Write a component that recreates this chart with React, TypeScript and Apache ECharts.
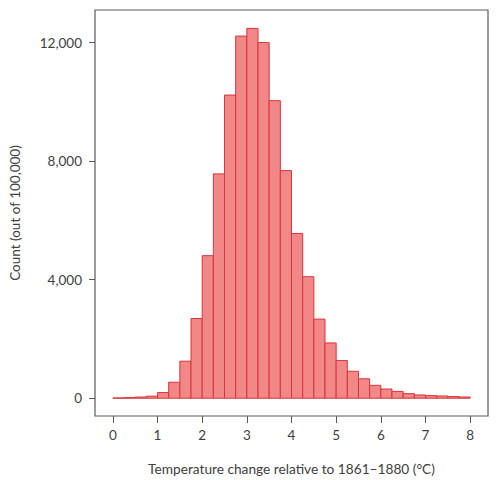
import React, { useEffect, useRef } from "react";
import * as echarts from "echarts";

const binStarts = [
  0, 0.25, 0.5, 0.75, 1, 1.25, 1.5, 1.75, 2, 2.25, 2.5, 2.75, 3, 3.25, 3.5, 3.75,
  4, 4.25, 4.5, 4.75, 5, 5.25, 5.5, 5.75, 6, 6.25, 6.5, 6.75, 7, 7.25, 7.5, 7.75,
];
const counts = [
  10, 20, 40, 70, 190, 540, 1250, 2690, 4810, 7570, 10230, 12220, 12480, 12000, 10040, 7680,
  5560, 4100, 2670, 1865, 1270, 910, 655, 435, 310, 230, 155, 110, 88, 75, 55, 42,
];
const binWidth = 0.25;
const xTicks = [0, 1, 2, 3, 4, 5, 6, 7, 8];
const yTicks = [0, 4000, 8000, 12000];

export default function App() {
  const ref = useRef<HTMLDivElement>(null);
  useEffect(() => {
    document.body.style.margin = "0";
    const chart = echarts.init(ref.current!, null, { renderer: "svg" });
    const textColor = "#404040";
    const font = "Lato, 'Open Sans', sans-serif";
    chart.setOption({
      animation: false,
      backgroundColor: "#ffffff",
      grid: {
        left: 95,
        top: 10,
        right: 12,
        bottom: 60,
        show: true,
        borderColor: "#5a5a5a",
        borderWidth: 1.2,
        backgroundColor: "transparent",
      },
      xAxis: {
        type: "value",
        min: -0.4,
        max: 8.4,
        name: "Temperature change relative to 1861\u20131880 (\u00B0C)",
        nameLocation: "middle",
        nameGap: 45,
        nameTextStyle: { color: textColor, fontSize: 13.7, fontFamily: font },
        axisLine: { show: false, onZero: false },
        splitLine: { show: false },
        axisTick: {
          show: true,
          inside: false,
          length: 7,
          lineStyle: { color: "#5a5a5a", width: 1 },
          customValues: xTicks,
        },
        axisLabel: {
          color: textColor,
          fontSize: 13.5,
          fontFamily: font,
          margin: 12,
          customValues: xTicks,
        },
      },
      yAxis: {
        type: "value",
        min: -600,
        max: 13100,
        name: "Count (out of 100,000)",
        nameLocation: "middle",
        nameGap: 73,
        nameTextStyle: { color: textColor, fontSize: 13.5, fontFamily: font },
        axisLine: { show: false, onZero: false },
        splitLine: { show: false },
        axisTick: {
          show: true,
          inside: false,
          length: 6,
          lineStyle: { color: "#5a5a5a", width: 1 },
          customValues: yTicks,
        },
        axisLabel: {
          color: textColor,
          fontSize: 13.5,
          fontFamily: font,
          margin: 13,
          customValues: yTicks,
          formatter: (v: number) => v.toLocaleString("en-US"),
        },
      },
      series: [
        {
          type: "custom",
          data: binStarts.map((s, i) => [s, s + binWidth, counts[i]]),
          encode: { x: [0, 1], y: 2 },
          renderItem: (params: any, api: any) => {
            const p0 = api.coord([api.value(0), api.value(2)]);
            const p1 = api.coord([api.value(1), 0]);
            return {
              type: "rect",
              shape: { x: p0[0], y: p0[1], width: p1[0] - p0[0], height: p1[1] - p0[1] },
              style: { fill: "#f28787", stroke: "#d8343b", lineWidth: 1 },
            };
          },
        },
      ],
    });
    return () => chart.dispose();
  }, []);
  return <div ref={ref} style={{ width: 500, height: 480 }} />;
}
